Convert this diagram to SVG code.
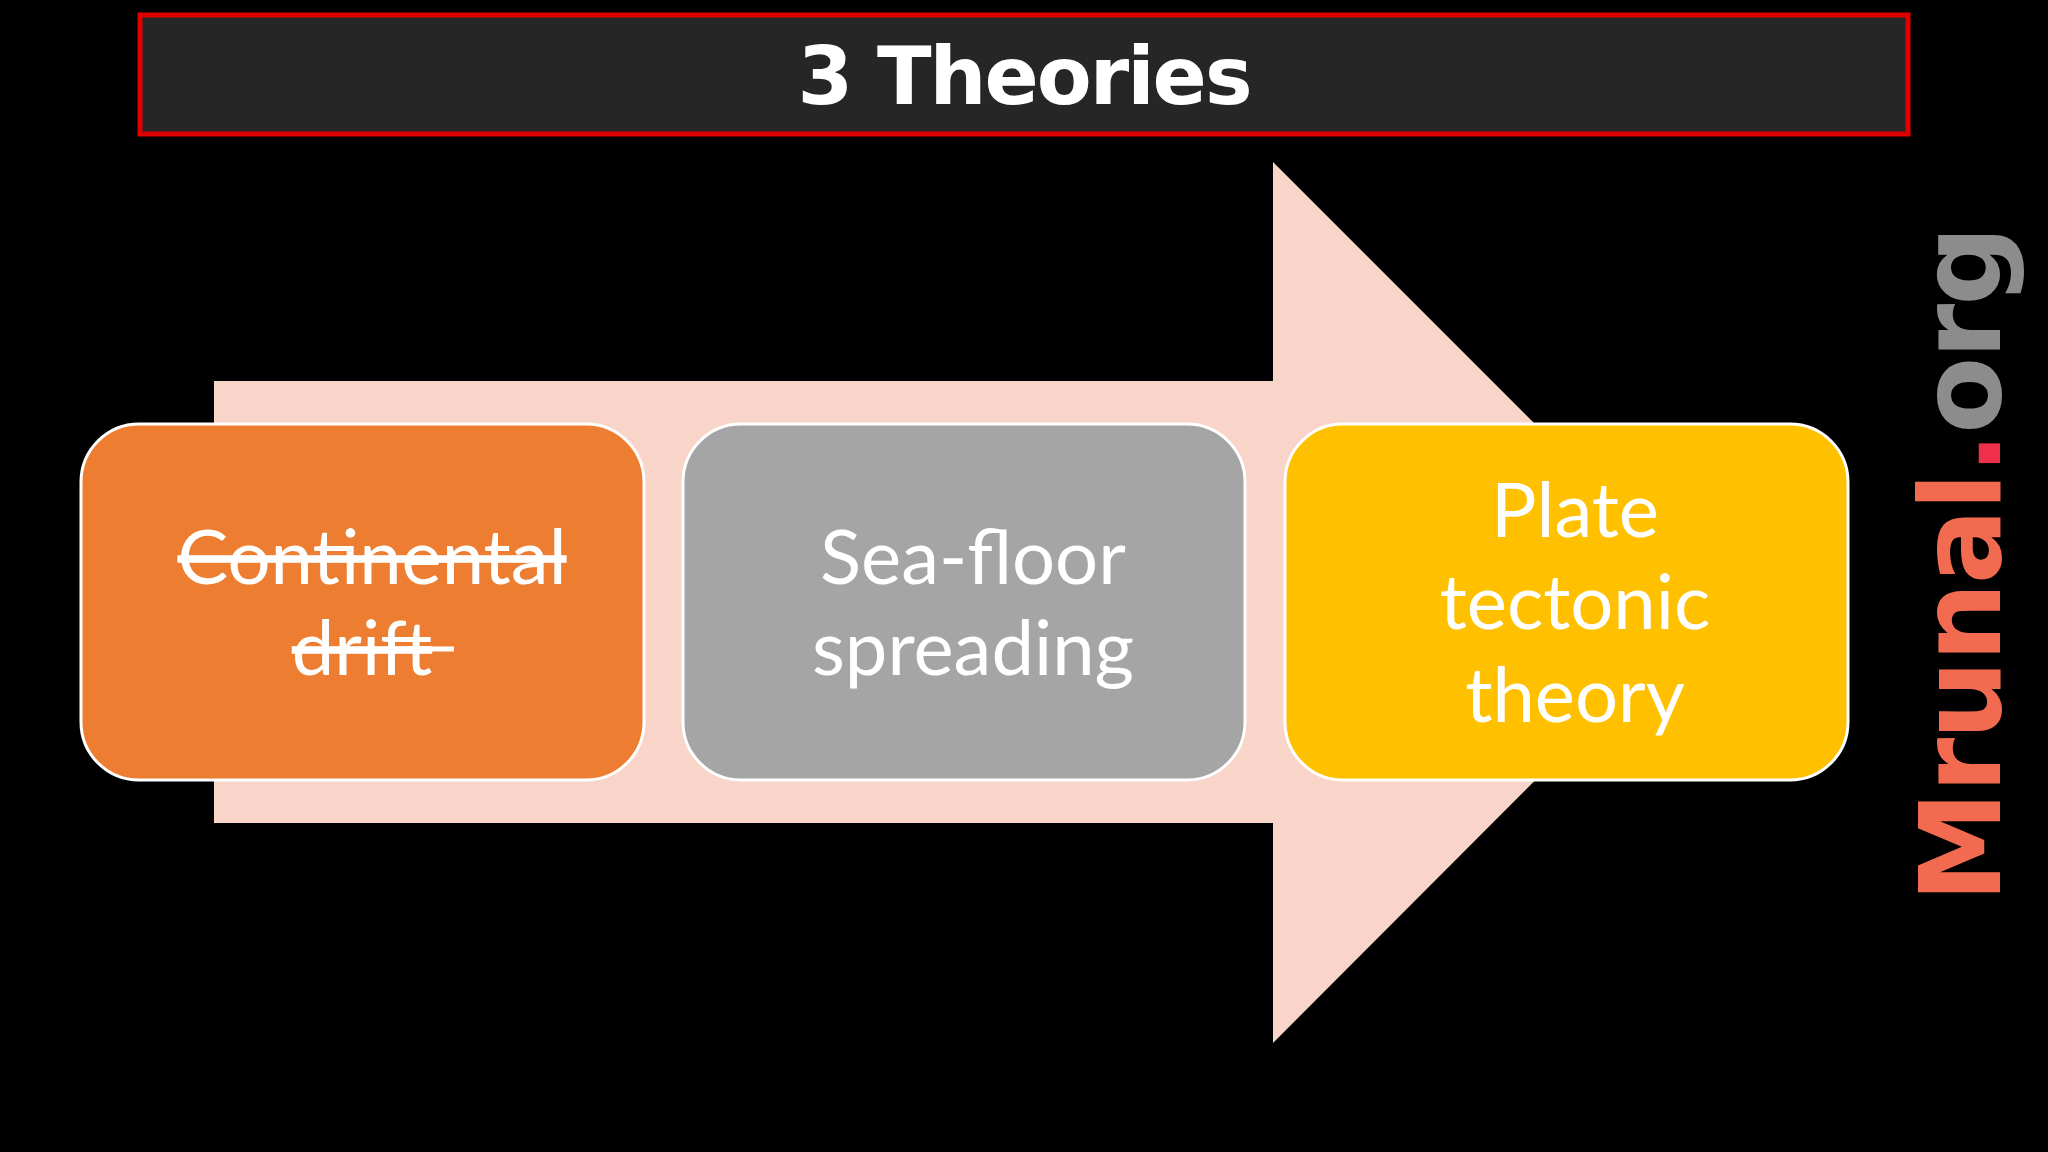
<svg xmlns="http://www.w3.org/2000/svg" width="2048" height="1152" viewBox="0 0 2048 1152">
<style>
.box{stroke:#fff;stroke-width:3}
.t{font-family:Lato,"Liberation Sans",sans-serif;font-size:76px;fill:#fff;text-anchor:middle}
</style>
<rect width="2048" height="1152" fill="#000"/>
<g id="title">
<rect x="140" y="15" width="1768" height="119" fill="#262626" stroke="#e00000" stroke-width="5"/>
<text x="1024" y="104" font-family="'DejaVu Sans','Liberation Sans',sans-serif" font-weight="900" font-size="80" fill="#fff" text-anchor="middle" letter-spacing="-2">3 Theories</text>
</g>
<g id="arrow">
<polygon points="214,381 1273,381 1273,162 1713,602 1273,1043 1273,823 214,823" fill="#f8d5c8"/>
</g>
<g id="n1">
<rect class="box" x="81" y="424" width="563" height="356" rx="58" fill="#ed7d31"/>
<text class="t" x="372" y="584" text-decoration="line-through">Continental</text>
<text class="t" x="362" y="675" text-decoration="line-through">drift</text>
<line x1="400" y1="649" x2="454" y2="649" stroke="#fff" stroke-width="5"/>
</g>
<g id="n2">
<rect class="box" x="683" y="424" width="562" height="356" rx="58" fill="#a5a5a5"/>
<text class="t" x="973" y="584">Sea-floor</text>
<text class="t" x="973" y="675">spreading</text>
</g>
<g id="n3">
<rect class="box" x="1285" y="424" width="563" height="356" rx="58" fill="#ffc000"/>
<text class="t" x="1575" y="537">Plate</text>
<text class="t" x="1575" y="629">tectonic</text>
<text class="t" x="1575" y="722">theory</text>
</g>
<g id="watermark">
<text transform="translate(2000,565) rotate(-90)" font-family="'DejaVu Sans','Liberation Sans',sans-serif" font-weight="bold" font-size="112" text-anchor="middle" letter-spacing="-2"><tspan fill="#f26b50">Mrunal</tspan><tspan fill="#f0304a">.</tspan><tspan fill="#8c8c8c">org</tspan></text>
</g>
</svg>
